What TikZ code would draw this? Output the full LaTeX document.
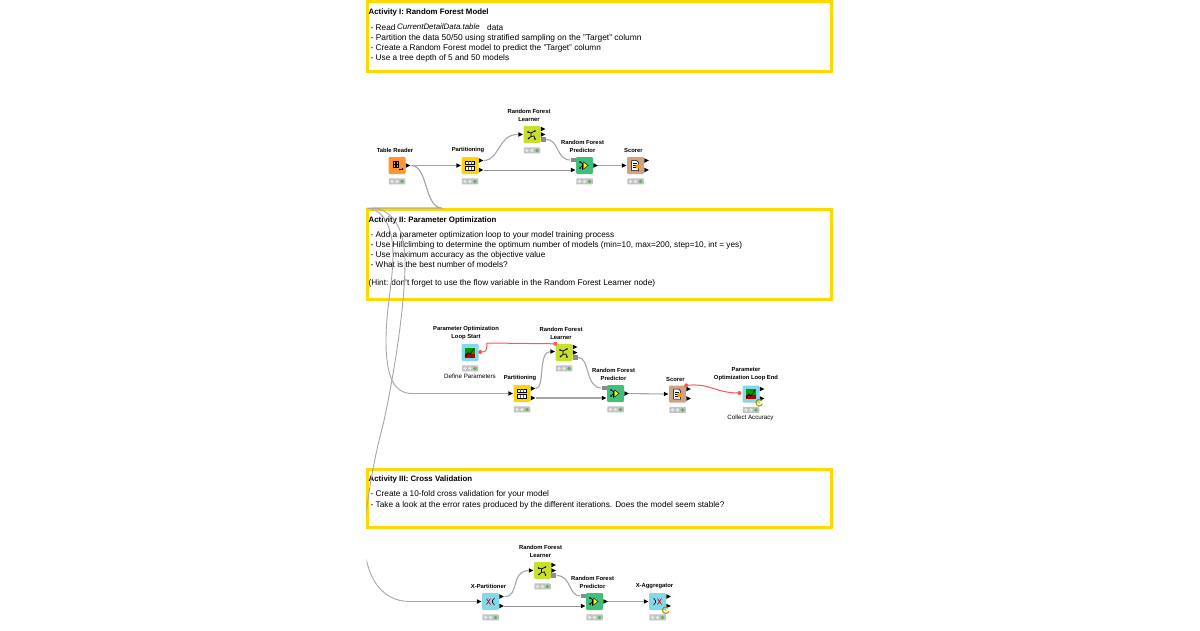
\documentclass[tikz,border=0pt]{standalone}
\usepackage{fontspec}
\setmainfont{Liberation Sans}
\usetikzlibrary{positioning, shapes.geometric}
\definecolor{boxyellow}{HTML}{FFD800}
\definecolor{wiregray}{HTML}{A6A6A6}
\definecolor{flowred}{HTML}{FF5555}
\definecolor{cReader}{HTML}{FF9632}
\definecolor{cPart}{HTML}{FFD500}
\definecolor{cLearn}{HTML}{C8E02C}
\definecolor{cPred}{HTML}{40BF7A}
\definecolor{cScore}{HTML}{CFA382}
\definecolor{cLoop}{HTML}{84D8EA}
\tikzset{
  activity/.style={
    draw=boxyellow, line width=3pt, fill=white, outer sep=0,
    minimum width=464pt, anchor=north west, inner sep=0,
  },
  head/.style={
    anchor=west, inner sep=0, yshift=-1pt,
    font=\fontsize{7.85}{10}\selectfont\bfseries,
  },
  txtline/.style={
    anchor=west, inner sep=0, yshift=-1pt,
    font=\fontsize{8.25}{10}\selectfont,
  },
  kbox/.style={
    minimum width=17pt, minimum height=17pt, inner sep=0,
    rounded corners=1.2pt,
  },
  ktitle/.style={
    align=center, inner sep=0,
    font=\fontsize{5.85}{8}\selectfont\bfseries,
  },
  knote/.style={
    inner sep=0,
    font=\fontsize{6.2}{8}\selectfont,
  },
  kstat/.style={
    minimum width=16.5pt, minimum height=6pt, inner sep=0,
    fill=black!24, rounded corners=0.6pt,
  },
  inport/.style={
    isosceles triangle, isosceles triangle stretches, inner sep=0,
    minimum width=4.6pt, minimum height=4.4pt, fill=black, anchor=east,
  },
  outport/.style={
    inport, anchor=west,
  },
  modport/.style={
    minimum width=5pt, minimum height=4.4pt, inner sep=0, fill=black!45,
  },
  fdot/.style={
    circle, minimum size=4pt, inner sep=0, fill=flowred,
  },
  wire/.style={
    draw=wiregray, line width=1.1pt,
  },
  datawire/.style={
    draw=black!42, line width=0.9pt,
  },
  longwire/.style={
    draw=wiregray, line width=0.9pt,
  },
  flow/.style={
    draw=flowred, line width=1pt,
  },
}
% icon, its title above and the traffic light below
\newcommand{\knode}[6][-2pt]{
  \node[kbox, fill=#5] (#2) at (#3,#4) {};
  \node[ktitle, above=4pt of #2, xshift=#1] (#2-t) {#6};
  \node[kstat, below=4pt of #2] (#2-s) {};
  \fill[black!10] ([xshift=-5pt]#2-s.center) circle (1.9pt);
  \fill[black!10] (#2-s.center) circle (1.9pt);
  \fill[green!55!black!65] ([xshift=5pt]#2-s.center) circle (1.9pt);
}
\newcommand{\kin}[3]{\node[inport] (#1) at ([shift={(0,#3)}]#2.west) {};}
\newcommand{\kout}[3]{\node[outport] (#1) at ([shift={(0,#3)}]#2.east) {};}
\newcommand{\kmodin}[3]{\node[modport, anchor=east] (#1) at ([shift={(0,#3)}]#2.west) {};}
\newcommand{\kmodout}[3]{\node[modport, anchor=west] (#1) at ([shift={(0,#3)}]#2.east) {};}
% glyphs
\newcommand{\gtable}[1]{
  \begin{scope}[shift={(#1.center)}]
    \draw[line width=0.4pt] (-4,-4) rectangle (1.5,1.5) (-4,-1.2) -- (1.5,-1.2) (-2.2,-4) -- (-2.2,1.5) (-0.4,-4) -- (-0.4,1.5);
    \draw[line width=0.7pt] (2,4) -- (5,4) (5,2.5) -- (5,4);
  \end{scope}
}
\newcommand{\gpart}[1]{
  \begin{scope}[shift={(#1.center)}]
    \foreach \j in {-2.7,2.7} {
      \draw[fill=white, line width=0.5pt] (-4.5,\j-1.6) rectangle (4.5,\j+1.6);
      \draw[line width=0.3pt, black!60] (-1.5,\j-1.6) -- (-1.5,\j+1.6) (1.5,\j-1.6) -- (1.5,\j+1.6);
    }
  \end{scope}
}
\newcommand{\gforest}[1]{
  \begin{scope}[shift={(#1.center)}, line width=0.7pt]
    \draw (-4,-2.5) -- (-1,-1.5) -- (3,-3.5) (-1,-1.5) -- (-1,2) -- (-3.5,4) (-1,2) -- (2,1.5) -- (3,4.5);
    \fill (-4,-2.5) circle (0.9pt) (3,-3.5) circle (0.9pt) (-3.5,4) circle (0.9pt) (3,4.5) circle (0.9pt);
  \end{scope}
}
\newcommand{\gpred}[1]{
  \begin{scope}[shift={(#1.center)}, line width=0.7pt]
    \draw (-4.5,-3.5) -- (-2,-2) -- (-2,4) (-2,0) -- (-4.5,2.5);
    \fill (-4.5,-3.5) circle (0.8pt) (-4.5,2.5) circle (0.8pt);
    \fill[yellow] (-1,-3.5) -- (3.5,0) -- (-1,3.5) -- cycle;
    \draw[line width=0.4pt] (-1,-3.5) -- (3.5,0) -- (-1,3.5) -- cycle;
  \end{scope}
}
\newcommand{\gscore}[1]{
  \begin{scope}[shift={(#1.center)}]
    \draw[fill=white, line width=0.5pt] (-4,-5) -- (1,-5) -- (3,-3) -- (3,5) -- (-4,5) -- cycle;
    \draw[line width=0.3pt] (-2.5,-2) -- (1,-2) (-2.5,0) -- (0,0) (-2.5,2) -- (0,2);
    \fill[orange!80!yellow] (2,1) circle (2.2pt);
  \end{scope}
}
\newcommand{\gloop}[1]{
  \begin{scope}[shift={(#1.center)}]
    \fill[green!60!black] (-5,-5) rectangle (5,1);
    \fill[red!70!black] (-5,1) rectangle (5,5);
    \draw[line width=0.6pt] (-5,4) -- (-2,0) -- (0,2) -- (4,-4);
  \end{scope}
}
\newcommand{\gcross}[2]{
  \begin{scope}[shift={(#1.center)}]
    \draw[red!80!black, line width=0.6pt] (#2-2,-3) -- (#2+2,3) (#2-2,3) -- (#2+2,-3);
  \end{scope}
}
\newcommand{\gcirc}[1]{
  \draw[olive!85!yellow, line width=1.1pt] ([shift={(-0.5,0)}]#1.south east) ++(40:3.3pt) arc (40:340:3.3pt);
  \fill[yellow!70!olive] ([shift={(-0.5,0)}]#1.south east) circle (1.2pt);
}

\begin{document}
\begin{tikzpicture}[x=1pt, y=-1pt]
\useasboundingbox (0,0) rectangle (1200,630);
\node[activity, minimum height=70pt] (box1) at (367.5,1.3) {};
\node[activity, minimum height=90pt] (box2) at (367.5,209.5) {};
\node[activity, minimum height=58pt] (box3) at (367.5,469.5) {};

\node[head] (h1) at (368.5,11.5) {Activity I: Random Forest Model};
\node[txtline] (a1) at (370.5,26.5) {- Read};
\node[txtline, font=\fontsize{7.9}{10}\selectfont\itshape] (a1b) at (397,26) {CurrentDetailData.table};
\node[txtline] (a1c) at (487,26.5) {data};
\node[txtline, font=\fontsize{8.4}{10}\selectfont] (a2) at (370.5,37.5) {- Partition the data 50/50 using stratified sampling on the "Target" column};
\node[txtline] (a3) at (370.5,47) {- Create a Random Forest model to predict the "Target" column};
\node[txtline] (a4) at (370.5,57.5) {- Use a tree depth of 5 and 50 models};

\node[head] (h2) at (368.5,219) {Activity II: Parameter Optimization};
\node[txtline] (b1) at (370.5,234) {- Add a parameter optimization loop to your model training process};
\node[txtline] (b2) at (370.5,244.5) {- Use Hillclimbing to determine the optimum number of models (min=10, max=200, step=10, int = yes)};
\node[txtline] (b3) at (370.5,254) {- Use maximum accuracy as the objective value};
\node[txtline] (b4) at (370.5,263.5) {- What is the best number of models?};
\node[txtline] (b5) at (368.5,282) {(Hint: don't forget to use the flow variable in the Random Forest Learner node)};

\node[head] (h3) at (368.5,478.5) {Activity III: Cross Validation};
\node[txtline] (c1) at (370.5,493.5) {- Create a 10-fold cross validation for your model};
\node[txtline] (c2) at (370.5,504.5) {- Take a look at the error rates produced by the different iterations. Does the model seem stable?};

% first workflow
\knode{tr}{397}{165.5}{cReader}{Table Reader}
\knode{pa}{470}{165.5}{cPart}{Partitioning}
\knode[-3pt]{rl}{532}{134.5}{cLearn}{Random Forest\\Learner}
\knode{rp}{584.5}{165.5}{cPred}{Random Forest\\Predictor}
\knode{sc}{635.5}{165.5}{cScore}{Scorer}
\kout{tr-o}{tr}{0}
\kin{pa-i}{pa}{0} \kout{pa-o1}{pa}{-5} \kout{pa-o2}{pa}{4.5}
\kin{rl-i}{rl}{0} \kout{rl-o1}{rl}{-5.5} \kout{rl-o2}{rl}{0} \kmodout{rl-m}{rl}{5}
\kmodin{rp-m}{rp}{-5.5} \kin{rp-i}{rp}{4.5} \kout{rp-o}{rp}{0}
\kin{sc-i}{sc}{0} \kout{sc-o1}{sc}{-5} \kout{sc-o2}{sc}{4.5}

% second workflow
\knode[-4pt]{ls}{470}{352.5}{cLoop}{Parameter Optimization\\Loop Start}
\knode[-3pt]{rl2}{564}{352.5}{cLearn}{Random Forest\\Learner}
\knode{pa2}{522}{393.5}{cPart}{Partitioning}
\knode{rp2}{615.5}{393.5}{cPred}{Random Forest\\Predictor}
\knode{sc2}{677.5}{394}{cScore}{Scorer}
\knode[-5pt]{le}{751}{394}{cLoop}{Parameter\\Optimization Loop End}
\node[knote] (ls-n) at (470,376.5) {Define Parameters};
\node[knote] (le-n) at (750.5,418) {Collect Accuracy};
\kin{pa2-i}{pa2}{0} \kout{pa2-o1}{pa2}{-5} \kout{pa2-o2}{pa2}{4.5}
\kin{rl2-i}{rl2}{-1} \kout{rl2-o1}{rl2}{-5.5} \kout{rl2-o2}{rl2}{0} \kmodout{rl2-m}{rl2}{5}
\kmodin{rp2-m}{rp2}{-5.5} \kin{rp2-i}{rp2}{4.5} \kout{rp2-o}{rp2}{0}
\kin{sc2-i}{sc2}{0} \kout{sc2-o1}{sc2}{-5} \kout{sc2-o2}{sc2}{4.5}
\kout{le-o1}{le}{-5} \kout{le-o2}{le}{4.5}
\node[fdot] (ls-f) at ([shift={(1.5,-0.5)}]ls.east) {};
\node[fdot] (rl2-f) at (rl2.north west) {};
\node[fdot] (sc2-f) at (sc2.north east) {};
\node[fdot] (le-f) at ([shift={(-3,-1)}]le.west) {};

% third workflow
\knode{xp}{490.5}{601.5}{cLoop}{X-Partitioner}
\knode{rl3}{542.5}{570.5}{cLearn}{Random Forest\\Learner}
\knode{rp3}{594.5}{601.5}{cPred}{Random Forest\\Predictor}
\knode[-3pt]{xa}{657.5}{601.5}{cLoop}{X-Aggregator}
\kin{xp-i}{xp}{0} \kout{xp-o1}{xp}{-5} \kout{xp-o2}{xp}{4.5}
\kin{rl3-i}{rl3}{0} \kout{rl3-o1}{rl3}{-5.5} \kout{rl3-o2}{rl3}{0} \kmodout{rl3-m}{rl3}{5}
\kmodin{rp3-m}{rp3}{-5.5} \kin{rp3-i}{rp3}{4.5} \kout{rp3-o}{rp3}{0}
\kin{xa-i}{xa}{0} \kout{xa-o1}{xa}{-5} \kout{xa-o2}{xa}{4.5}

\gtable{tr}
\foreach \n in {pa,pa2} { \gpart{\n} }
\foreach \n in {rl,rl2,rl3} { \gforest{\n} }
\foreach \n in {rp,rp2,rp3} { \gpred{\n} }
\foreach \n in {sc,sc2} { \gscore{\n} }
\foreach \n in {ls,le} { \gloop{\n} }
\gcross{xp}{-2}
\draw[line width=0.6pt] ([shift={(4,-3.5)}]xp.center) -- ([shift={(2,-1)}]xp.center) -- ([shift={(2,1)}]xp.center) -- ([shift={(4,3.5)}]xp.center);
\gcross{xa}{2}
\draw[line width=0.6pt] ([shift={(-4,-3.5)}]xa.center) -- ([shift={(-2,-1)}]xa.center) -- ([shift={(-2,1)}]xa.center) -- ([shift={(-4,3.5)}]xa.center);
\gcirc{le}
\gcirc{xa}

% the connectors
\begin{scope}
  \clip (366.5,0) rectangle (1200,630);
  \draw[longwire] (tr-o.east) .. controls (428,165) and (424,206) .. (441,208) -- (367,208)
    .. controls (382,209) and (393,225) .. (393,255)
    .. controls (393,280) and (386,310) .. (386,340)
    .. controls (386,375) and (393,393.5) .. (412,393.5) -- (pa2-i.west);
  \draw[longwire] (tr-o.east) .. controls (428,165) and (424,206) .. (441,208) -- (372,208)
    .. controls (392,209) and (405,228) .. (405,262)
    .. controls (405,310) and (392,385) .. (383,425)
    .. controls (375,455) and (368,490) .. (364,535)
    .. controls (364,575) and (380,601.5) .. (410,601.5) -- (xp-i.west);
\end{scope}
\draw[wire] (tr-o) -- (pa-i);
\draw[wire] (pa-o1.east) .. controls (500,160) and (498,134) .. (rl-i.west);
\draw[datawire] (pa-o2) -- (rp-i);
\draw[wire] (rl-m.east) .. controls (559,139) and (556,160) .. (rp-m.west);
\draw[wire] (rp-o) -- (sc-i);

\draw[wire] (pa2-o1.east) .. controls (545,388.5) and (538,351.5) .. (rl2-i.west);
\draw[wire] (pa2-o2) -- (rp2-i);
\draw[wire] (rl2-m.east) .. controls (590,357) and (585,388) .. (rp2-m.west);
\draw[wire] (rp2-o) -- (sc2-i);
\draw[flow] (ls-f.center) .. controls (485,352) and (487,352) .. (487,343) -- (rl2-f.center);
\draw[flow] (sc2-f.center) .. controls (712,383) and (714,393) .. (le-f.center);

\draw[wire] (xp-o1.east) .. controls (520,597) and (510,571) .. (rl3-i.west);
\draw[datawire] (xp-o2) -- (rp3-i);
\draw[wire] (rl3-m.east) .. controls (572,576) and (568,596) .. (rp3-m.west);
\draw[wire] (rp3-o) -- (xa-i);
\end{tikzpicture}
\end{document}
